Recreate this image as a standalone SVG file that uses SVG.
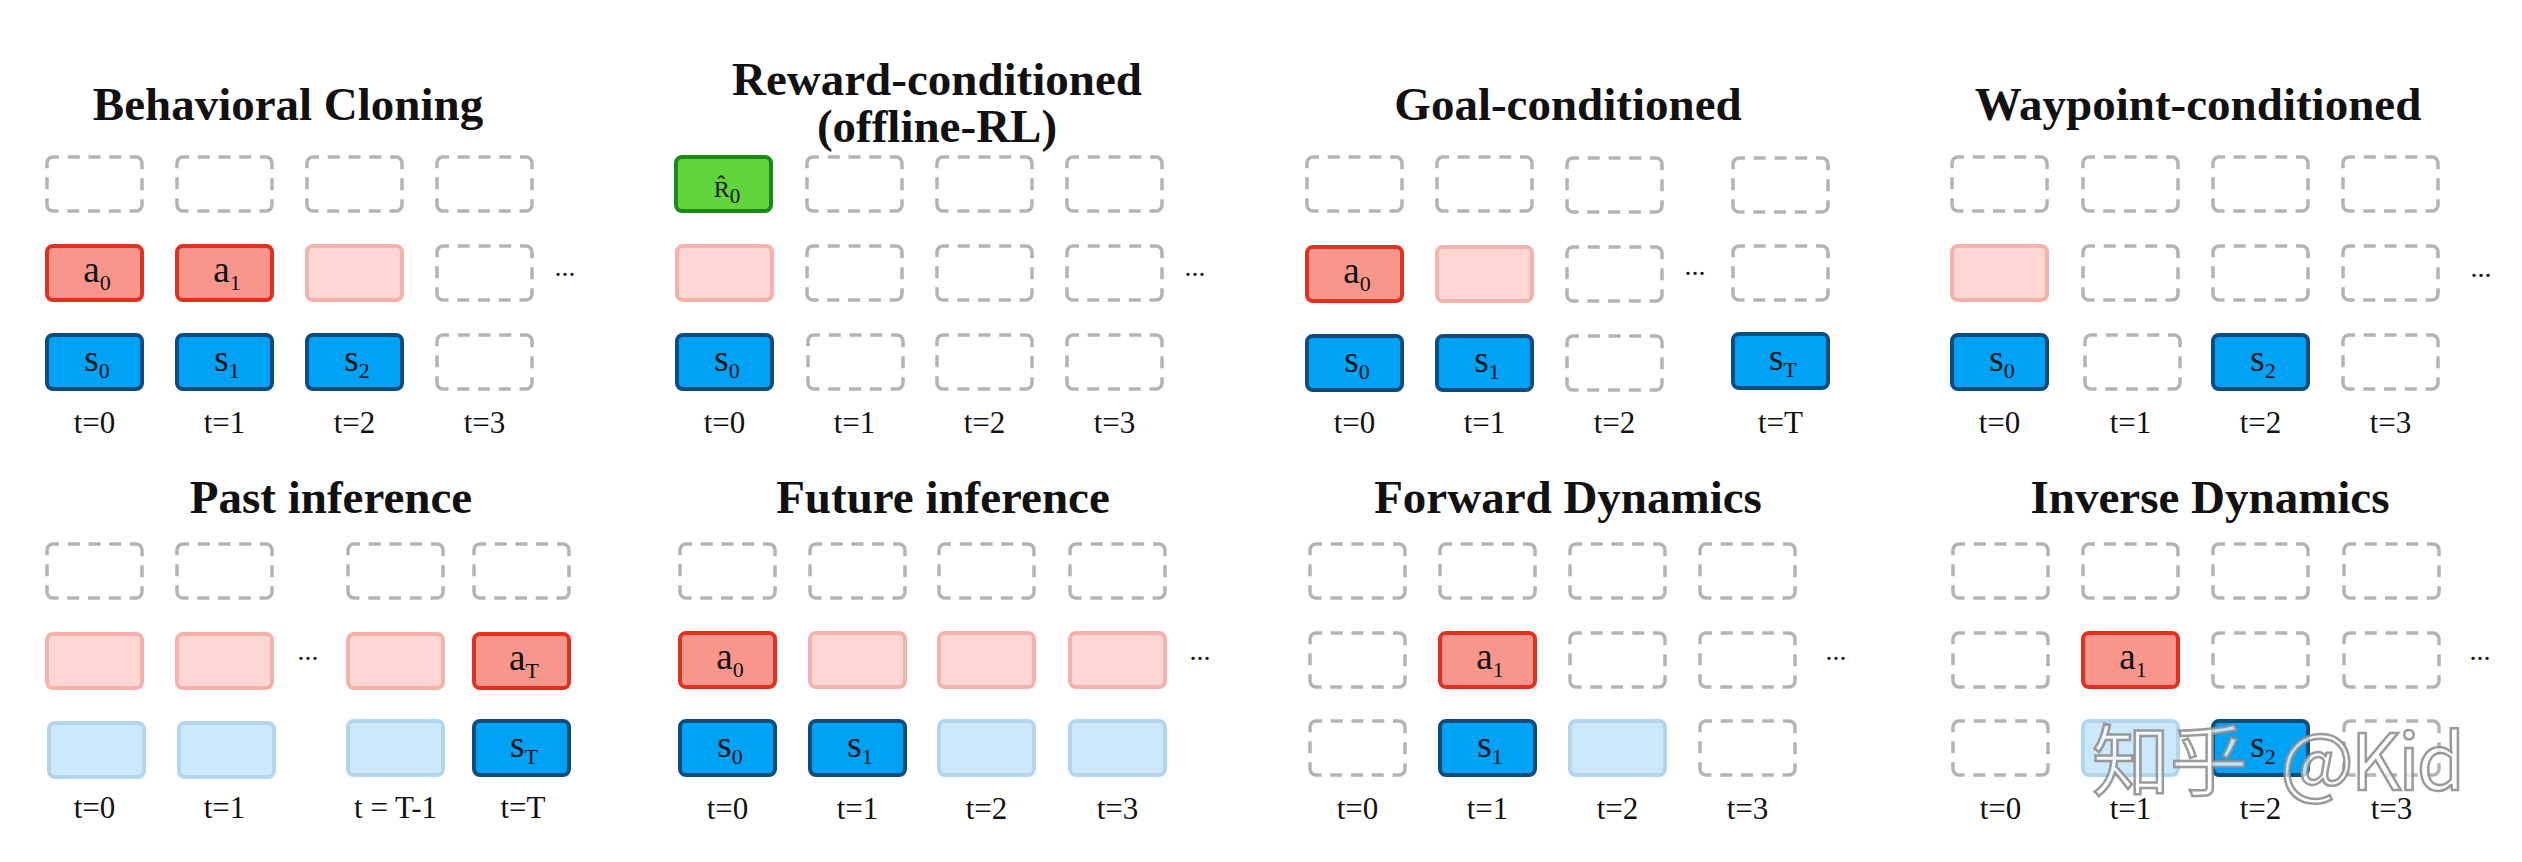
<svg xmlns="http://www.w3.org/2000/svg" xmlns:xlink="http://www.w3.org/1999/xlink" width="2522" height="862" viewBox="0 0 2522 862">
<style>
.dash{fill:none;stroke:#b4b4b4;stroke-width:3.5;stroke-dasharray:6 8.75 12 8.75 12 8.75 12 8.75 21.42 9 12 9 21.42 8.75 12 8.75 12 8.75 12 8.75 21.42 9 12 9 15.42 0.6}
.act{fill:#f9968c;stroke:#e2301f;stroke-width:4}
.actl{fill:#fdd7d4;stroke:#f5b2ac;stroke-width:4}
.st{fill:#00a2f5;stroke:#0c4d7e;stroke-width:4}
.stl{fill:#cce9fb;stroke:#b4d6ec;stroke-width:4}
.rw{fill:#5fd53b;stroke:#1b8a1b;stroke-width:4}
text{font-family:"Liberation Serif","DejaVu Serif",serif;fill:#111;text-anchor:middle}
.title{font-size:47px;font-weight:bold}
.lbl{font-size:37px}
.sub{font-size:22px}
.rl{font-size:24px}
.rs{font-size:21px}
.t{font-size:31px}
.dots{font-size:28px}
.wm{font-family:"Noto Sans CJK SC","Noto Sans",sans-serif;font-size:78px;fill:#ffffff;fill-opacity:0.72;stroke:#8a8a8a;stroke-opacity:0.85;stroke-width:2.5;text-anchor:start}
.wm2{letter-spacing:-3px}
</style>
<defs>
<rect id="bx" x="2" y="2" width="95" height="54" rx="6"/>
</defs>
<rect width="2522" height="862" fill="#ffffff"/>

<!-- Panel 1: Behavioral Cloning -->
<g id="p1-behavioral-cloning">
<text class="title" x="288" y="120">Behavioral Cloning</text>
<use xlink:href="#bx" class="dash" x="45" y="155"/>
<use xlink:href="#bx" class="dash" x="175" y="155"/>
<use xlink:href="#bx" class="dash" x="305" y="155"/>
<use xlink:href="#bx" class="dash" x="435" y="155"/>
<g id="p1-a0"><use xlink:href="#bx" class="act" x="45" y="244"/><text class="lbl" x="97" y="282">a<tspan class="sub" dy="8">0</tspan></text></g>
<g id="p1-a1"><use xlink:href="#bx" class="act" x="175" y="244"/><text class="lbl" x="227" y="282">a<tspan class="sub" dy="8">1</tspan></text></g>
<use xlink:href="#bx" class="actl" x="305" y="244"/>
<use xlink:href="#bx" class="dash" x="435" y="244"/>
<g id="p1-s0"><use xlink:href="#bx" class="st" x="45" y="333"/><text class="lbl" x="97" y="371">s<tspan class="sub" dy="7">0</tspan></text></g>
<g id="p1-s1"><use xlink:href="#bx" class="st" x="175" y="333"/><text class="lbl" x="227" y="371">s<tspan class="sub" dy="7">1</tspan></text></g>
<g id="p1-s2"><use xlink:href="#bx" class="st" x="305" y="333"/><text class="lbl" x="357" y="371">s<tspan class="sub" dy="7">2</tspan></text></g>
<use xlink:href="#bx" class="dash" x="435" y="333"/>
<text class="dots" x="565" y="276">...</text>
<text class="t" x="94.5" y="433">t=0</text>
<text class="t" x="224.5" y="433">t=1</text>
<text class="t" x="354.5" y="433">t=2</text>
<text class="t" x="484.5" y="433">t=3</text>
</g>

<!-- Panel 2: Reward-conditioned -->
<g id="p2-reward-conditioned">
<text class="title" x="937" y="95">Reward-conditioned</text>
<text class="title" x="937" y="142">(offline-RL)</text>
<g id="p2-r0"><use xlink:href="#bx" class="rw" x="674" y="155"/><text class="rl" x="727" y="197">R&#x302;<tspan class="rs" dy="6">0</tspan></text></g>
<use xlink:href="#bx" class="dash" x="805" y="155"/>
<use xlink:href="#bx" class="dash" x="935" y="155"/>
<use xlink:href="#bx" class="dash" x="1065" y="155"/>
<use xlink:href="#bx" class="actl" x="675" y="244"/>
<use xlink:href="#bx" class="dash" x="805" y="244"/>
<use xlink:href="#bx" class="dash" x="935" y="244"/>
<use xlink:href="#bx" class="dash" x="1065" y="244"/>
<g id="p2-s0"><use xlink:href="#bx" class="st" x="675" y="333"/><text class="lbl" x="727" y="371">s<tspan class="sub" dy="7">0</tspan></text></g>
<use xlink:href="#bx" class="dash" x="806" y="333"/>
<use xlink:href="#bx" class="dash" x="935" y="333"/>
<use xlink:href="#bx" class="dash" x="1065" y="333"/>
<text class="dots" x="1195" y="276">...</text>
<text class="t" x="724.5" y="433">t=0</text>
<text class="t" x="854.5" y="433">t=1</text>
<text class="t" x="984.5" y="433">t=2</text>
<text class="t" x="1114.5" y="433">t=3</text>
</g>

<!-- Panel 3: Goal-conditioned -->
<g id="p3-goal-conditioned">
<text class="title" x="1568" y="120">Goal-conditioned</text>
<use xlink:href="#bx" class="dash" x="1305" y="155"/>
<use xlink:href="#bx" class="dash" x="1435" y="155"/>
<use xlink:href="#bx" class="dash" x="1565" y="156"/>
<use xlink:href="#bx" class="dash" x="1731" y="156"/>
<g id="p3-a0"><use xlink:href="#bx" class="act" x="1305" y="245"/><text class="lbl" x="1357" y="283">a<tspan class="sub" dy="8">0</tspan></text></g>
<use xlink:href="#bx" class="actl" x="1435" y="245"/>
<use xlink:href="#bx" class="dash" x="1565" y="245"/>
<use xlink:href="#bx" class="dash" x="1731" y="244"/>
<g id="p3-s0"><use xlink:href="#bx" class="st" x="1305" y="334"/><text class="lbl" x="1357" y="372">s<tspan class="sub" dy="7">0</tspan></text></g>
<g id="p3-s1"><use xlink:href="#bx" class="st" x="1435" y="334"/><text class="lbl" x="1487" y="372">s<tspan class="sub" dy="7">1</tspan></text></g>
<use xlink:href="#bx" class="dash" x="1565" y="334"/>
<g id="p3-sT"><use xlink:href="#bx" class="st" x="1731" y="332"/><text class="lbl" x="1783" y="370">s<tspan class="sub" dy="7">T</tspan></text></g>
<text class="dots" x="1695" y="275">...</text>
<text class="t" x="1354.5" y="433">t=0</text>
<text class="t" x="1484.5" y="433">t=1</text>
<text class="t" x="1614.5" y="433">t=2</text>
<text class="t" x="1780.5" y="433">t=T</text>
</g>

<!-- Panel 4: Waypoint-conditioned -->
<g id="p4-waypoint-conditioned">
<text class="title" x="2198" y="120">Waypoint-conditioned</text>
<use xlink:href="#bx" class="dash" x="1950" y="155"/>
<use xlink:href="#bx" class="dash" x="2081" y="155"/>
<use xlink:href="#bx" class="dash" x="2211" y="155"/>
<use xlink:href="#bx" class="dash" x="2341" y="155"/>
<use xlink:href="#bx" class="actl" x="1950" y="244"/>
<use xlink:href="#bx" class="dash" x="2081" y="244"/>
<use xlink:href="#bx" class="dash" x="2211" y="244"/>
<use xlink:href="#bx" class="dash" x="2341" y="244"/>
<g id="p4-s0"><use xlink:href="#bx" class="st" x="1950" y="333"/><text class="lbl" x="2002" y="371">s<tspan class="sub" dy="7">0</tspan></text></g>
<use xlink:href="#bx" class="dash" x="2083" y="333"/>
<g id="p4-s2"><use xlink:href="#bx" class="st" x="2211" y="333"/><text class="lbl" x="2263" y="371">s<tspan class="sub" dy="7">2</tspan></text></g>
<use xlink:href="#bx" class="dash" x="2341" y="333"/>
<text class="dots" x="2481" y="277">...</text>
<text class="t" x="1999.5" y="433">t=0</text>
<text class="t" x="2130.5" y="433">t=1</text>
<text class="t" x="2260.5" y="433">t=2</text>
<text class="t" x="2390.5" y="433">t=3</text>
</g>

<!-- Panel 5: Past inference -->
<g id="p5-past-inference">
<text class="title" x="331" y="513">Past inference</text>
<use xlink:href="#bx" class="dash" x="45" y="542"/>
<use xlink:href="#bx" class="dash" x="175" y="542"/>
<use xlink:href="#bx" class="dash" x="346" y="542"/>
<use xlink:href="#bx" class="dash" x="472" y="542"/>
<use xlink:href="#bx" class="actl" x="45" y="632"/>
<use xlink:href="#bx" class="actl" x="175" y="632"/>
<use xlink:href="#bx" class="actl" x="346" y="632"/>
<g id="p5-aT"><use xlink:href="#bx" class="act" x="472" y="632"/><text class="lbl" x="524" y="670">a<tspan class="sub" dy="8">T</tspan></text></g>
<use xlink:href="#bx" class="stl" x="47" y="721"/>
<use xlink:href="#bx" class="stl" x="177" y="721"/>
<use xlink:href="#bx" class="stl" x="346" y="719"/>
<g id="p5-sT"><use xlink:href="#bx" class="st" x="472" y="719"/><text class="lbl" x="524" y="757">s<tspan class="sub" dy="7">T</tspan></text></g>
<text class="dots" x="308" y="660">...</text>
<text class="t" x="94.5" y="818">t=0</text>
<text class="t" x="224.5" y="818">t=1</text>
<text class="t" x="395.5" y="818">t = T-1</text>
<text class="t" x="523" y="818">t=T</text>
</g>

<!-- Panel 6: Future inference -->
<g id="p6-future-inference">
<text class="title" x="943" y="513">Future inference</text>
<use xlink:href="#bx" class="dash" x="678" y="542"/>
<use xlink:href="#bx" class="dash" x="808" y="542"/>
<use xlink:href="#bx" class="dash" x="937" y="542"/>
<use xlink:href="#bx" class="dash" x="1068" y="542"/>
<g id="p6-a0"><use xlink:href="#bx" class="act" x="678" y="631"/><text class="lbl" x="730" y="669">a<tspan class="sub" dy="8">0</tspan></text></g>
<use xlink:href="#bx" class="actl" x="808" y="631"/>
<use xlink:href="#bx" class="actl" x="937" y="631"/>
<use xlink:href="#bx" class="actl" x="1068" y="631"/>
<g id="p6-s0"><use xlink:href="#bx" class="st" x="678" y="719"/><text class="lbl" x="730" y="757">s<tspan class="sub" dy="7">0</tspan></text></g>
<g id="p6-s1"><use xlink:href="#bx" class="st" x="808" y="719"/><text class="lbl" x="860" y="757">s<tspan class="sub" dy="7">1</tspan></text></g>
<use xlink:href="#bx" class="stl" x="937" y="719"/>
<use xlink:href="#bx" class="stl" x="1068" y="719"/>
<text class="dots" x="1200" y="660">...</text>
<text class="t" x="727.5" y="819">t=0</text>
<text class="t" x="857.5" y="819">t=1</text>
<text class="t" x="986.5" y="819">t=2</text>
<text class="t" x="1117.5" y="819">t=3</text>
</g>

<!-- Panel 7: Forward Dynamics -->
<g id="p7-forward-dynamics">
<text class="title" x="1568" y="513">Forward Dynamics</text>
<use xlink:href="#bx" class="dash" x="1308" y="542"/>
<use xlink:href="#bx" class="dash" x="1438" y="542"/>
<use xlink:href="#bx" class="dash" x="1568" y="542"/>
<use xlink:href="#bx" class="dash" x="1698" y="542"/>
<use xlink:href="#bx" class="dash" x="1308" y="631"/>
<g id="p7-a1"><use xlink:href="#bx" class="act" x="1438" y="631"/><text class="lbl" x="1490" y="669">a<tspan class="sub" dy="8">1</tspan></text></g>
<use xlink:href="#bx" class="dash" x="1568" y="631"/>
<use xlink:href="#bx" class="dash" x="1698" y="631"/>
<use xlink:href="#bx" class="dash" x="1308" y="719"/>
<g id="p7-s1"><use xlink:href="#bx" class="st" x="1438" y="719"/><text class="lbl" x="1490" y="757">s<tspan class="sub" dy="7">1</tspan></text></g>
<use xlink:href="#bx" class="stl" x="1568" y="719"/>
<use xlink:href="#bx" class="dash" x="1698" y="719"/>
<text class="dots" x="1836" y="660">...</text>
<text class="t" x="1357.5" y="819">t=0</text>
<text class="t" x="1487.5" y="819">t=1</text>
<text class="t" x="1617.5" y="819">t=2</text>
<text class="t" x="1747.5" y="819">t=3</text>
</g>

<!-- Panel 8: Inverse Dynamics -->
<g id="p8-inverse-dynamics">
<text class="title" x="2210" y="513">Inverse Dynamics</text>
<use xlink:href="#bx" class="dash" x="1951" y="542"/>
<use xlink:href="#bx" class="dash" x="2081" y="542"/>
<use xlink:href="#bx" class="dash" x="2211" y="542"/>
<use xlink:href="#bx" class="dash" x="2342" y="542"/>
<use xlink:href="#bx" class="dash" x="1951" y="631"/>
<g id="p8-a1"><use xlink:href="#bx" class="act" x="2081" y="631"/><text class="lbl" x="2133" y="669">a<tspan class="sub" dy="8">1</tspan></text></g>
<use xlink:href="#bx" class="dash" x="2211" y="631"/>
<use xlink:href="#bx" class="dash" x="2342" y="631"/>
<use xlink:href="#bx" class="dash" x="1951" y="719"/>
<use xlink:href="#bx" class="stl" x="2081" y="719"/>
<g id="p8-s2"><use xlink:href="#bx" class="st" x="2211" y="719"/><text class="lbl" x="2263" y="757">s<tspan class="sub" dy="7">2</tspan></text></g>
<use xlink:href="#bx" class="dash" x="2342" y="719"/>
<text class="dots" x="2480" y="660">...</text>
<text class="t" x="2000.5" y="819">t=0</text>
<text class="t" x="2130.5" y="819">t=1</text>
<text class="t" x="2260.5" y="819">t=2</text>
<text class="t" x="2391.5" y="819">t=3</text>
</g>

<g id="watermark">
<text class="wm" x="2092" y="790">知乎<tspan class="wm2" x="2280">@Kid</tspan></text>
</g>
</svg>
